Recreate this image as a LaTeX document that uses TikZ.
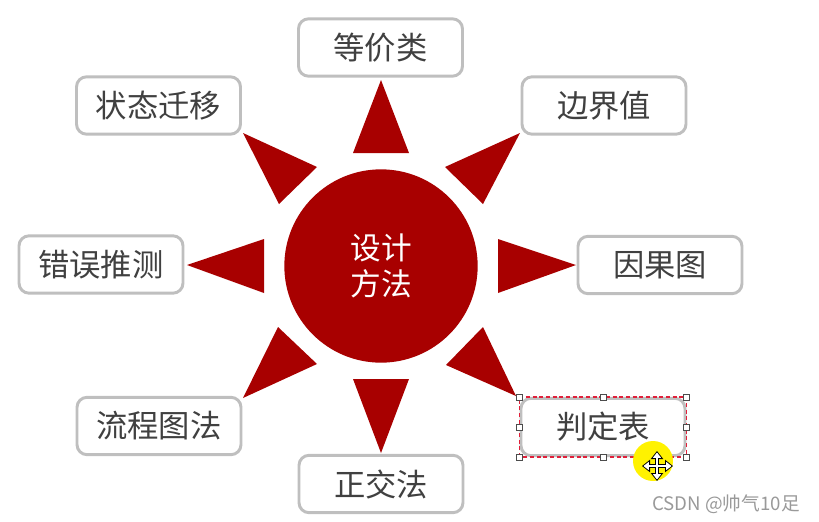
\documentclass[tikz,border=0pt]{standalone}
\usepackage{fontspec}
\setmainfont{Noto Sans CJK SC}
\usepackage{xcolor}
\usetikzlibrary{arrows.meta}
\definecolor{sunred}{HTML}{A80000}
\definecolor{boxgray}{HTML}{BFBFBF}
\definecolor{textgray}{HTML}{404040}
\definecolor{selred}{HTML}{E0203A}

\begin{document}
\begin{tikzpicture}[x=0.75pt,y=-0.75pt,
    method/.style={draw=boxgray,line width=2.2pt,rounded corners=7.5pt,fill=white,
      minimum width=123pt,minimum height=43pt,text=textgray,
      font=\fontsize{23.5}{27}\selectfont},
    ray/.style={fill=sunred},
    handle/.style={draw=black!70,fill=white,line width=0.4pt,minimum size=4.5pt,inner sep=0pt}]
    \useasboundingbox (0,0) rectangle (819,522);

    \node[circle,fill=sunred,minimum size=145pt,text=white,align=center,
      font=\fontsize{23}{26.5}\selectfont] (c) at (381,266) {设计\\方法};

    \node[method] (dj) at (380.5,47.5) {等价类};
    \node[method] (zt) at (158.5,105.5) {状态迁移};
    \node[method] (bj) at (604,105.5) {边界值};
    \node[method] (cw) at (101,264.5) {错误推测};
    \node[method] (yg) at (660,265) {因果图};
    \node[method] (lc) at (159,426) {流程图法};
    \node[method] (pd) at (603,427) {判定表};
    \node[method] (zj) at (381,484) {正交法};

    % rays
    \fill[ray] (381,80) -- (409,153) -- (353,153) -- cycle;
    \fill[ray] (381,453) -- (409,379) -- (353,379) -- cycle;
    \fill[ray] (187,265) -- (264,239) -- (264,293) -- cycle;
    \fill[ray] (576,265) -- (498,239) -- (498,293) -- cycle;
    \fill[ray] (243,133) -- (317,167) -- (279,204) -- cycle;
    \fill[ray] (520,133) -- (445,167) -- (483,204) -- cycle;
    \fill[ray] (243,398) -- (278,327) -- (317,364) -- cycle;
    \fill[ray] (516,396) -- (483,327) -- (446,365) -- cycle;

    % selection
    \draw[selred,dash pattern=on 3pt off 2pt,line width=1.3pt] (pd.south west) rectangle (pd.north east);
    \foreach \a in {north west,north,north east,east,south east,south,south west,west}
      \node[handle] at (pd.\a) {};

    \fill[yellow] (653,461) circle[radius=15pt];
    \draw[black,line width=3pt,{Triangle[length=6pt,width=9pt]}-{Triangle[length=6pt,width=9pt]}] (642,466) -- (673,466);
    \draw[black,line width=3pt,{Triangle[length=6pt,width=9pt]}-{Triangle[length=6pt,width=9pt]}] (657,451) -- (657,481);
    \draw[white,line width=1.2pt,{Triangle[length=4pt,width=6pt]}-{Triangle[length=4pt,width=6pt]}] (643.5,466) -- (671.5,466);
    \draw[white,line width=1.2pt,{Triangle[length=4pt,width=6pt]}-{Triangle[length=4pt,width=6pt]}] (657,452.5) -- (657,479.5);

    \node[text=black!40,font=\fontsize{14}{16}\selectfont] (wm) at (726,504) {CSDN @帅气10足};
\end{tikzpicture}
\end{document}
